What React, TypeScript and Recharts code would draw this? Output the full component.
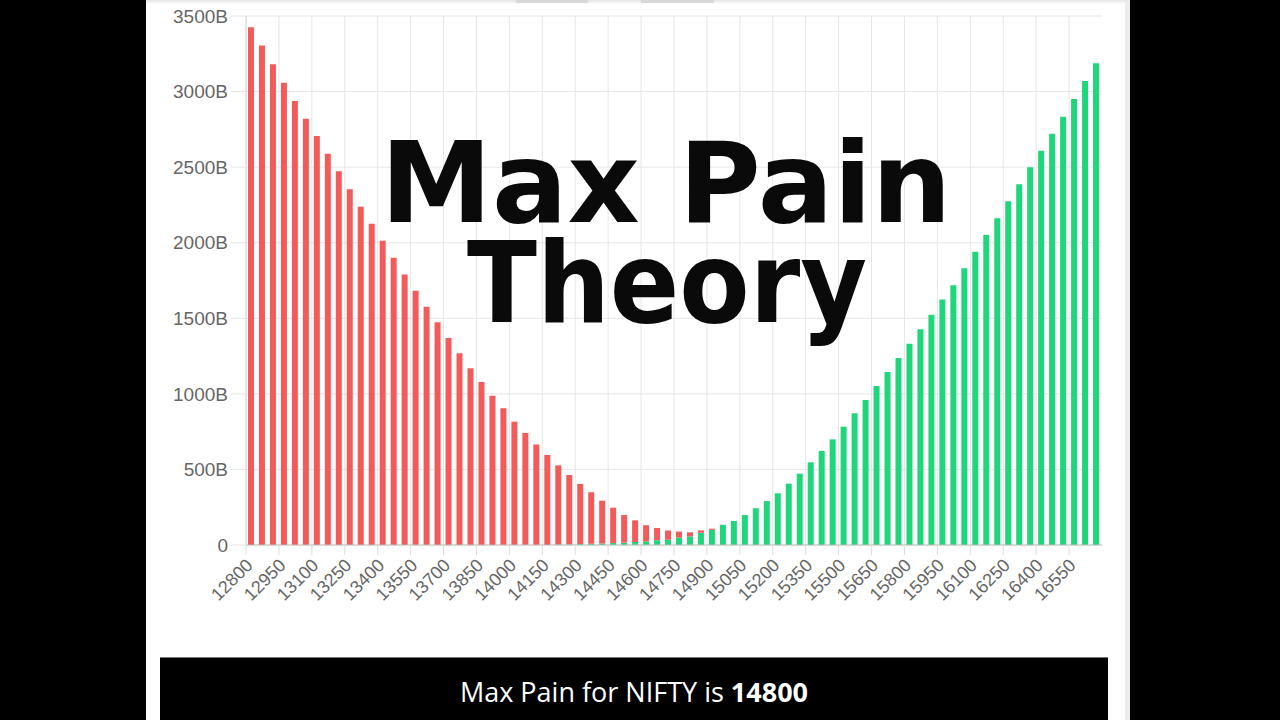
import React from "react";
import {
  BarChart,
  Bar,
  XAxis,
  YAxis,
  CartesianGrid,
  ReferenceLine,
} from "recharts";

// strike prices on the x axis
const strikes = [
  12800, 12850, 12900, 12950, 13000, 13050, 13100, 13150, 13200, 13250,
  13300, 13350, 13400, 13450, 13500, 13550, 13600, 13650, 13700, 13750,
  13800, 13850, 13900, 13950, 14000, 14050, 14100, 14150, 14200, 14250,
  14300, 14350, 14400, 14450, 14500, 14550, 14600, 14650, 14700, 14750,
  14800, 14850, 14900, 14950, 15000, 15050, 15100, 15150, 15200, 15250,
  15300, 15350, 15400, 15450, 15500, 15550, 15600, 15650, 15700, 15750,
  15800, 15850, 15900, 15950, 16000, 16050, 16100, 16150, 16200, 16250,
  16300, 16350, 16400, 16450, 16500, 16550, 16600, 16650,
];

// put writers' loss (red), in billions
const putPain = [
  3425, 3304, 3180, 3059, 2938, 2821, 2706, 2589, 2472, 2353,
  2238, 2126, 2013, 1901, 1789, 1682, 1577, 1473, 1370, 1268,
  1169, 1078, 988, 904, 816, 742, 665, 596, 525, 459,
  398, 341, 283, 234, 182, 143, 107, 82, 61, 40,
  27, 16, 8, 0, 0, 0, 0, 0, 0, 0,
  0, 0, 0, 0, 0, 0, 0, 0, 0, 0,
  0, 0, 0, 0, 0, 0, 0, 0, 0, 0,
  0, 0, 0, 0, 0, 0, 0, 0,
];

// call writers' loss (green), in billions
const callPain = [
  0, 0, 0, 0, 0, 0, 0, 0, 0, 0,
  0, 0, 0, 0, 0, 0, 0, 0, 0, 0,
  0, 0, 0, 0, 0, 0, 0, 0, 2, 4,
  6, 8, 10, 13, 16, 20, 24, 31, 35, 49,
  57, 81, 100, 134, 159, 198, 243, 291, 342, 406,
  472, 547, 622, 699, 783, 871, 959, 1052, 1145, 1237,
  1332, 1427, 1524, 1624, 1719, 1831, 1941, 2051, 2162, 2274,
  2387, 2499, 2609, 2721, 2834, 2951, 3070, 3187,
];

const yTicks = [0, 500, 1000, 1500, 2000, 2500, 3000, 3500];

const RED = "#f35b5b";
const GREEN = "#1fd67b";
const FONT = "'Liberation Sans', Arial, Helvetica, sans-serif";

const data = strikes.map((s, i) => ({
  strike: s,
  put: putPain[i],
  call: callPain[i],
}));

const XTick = (props: any) => {
  const { x, y, payload } = props;
  const off = payload?.offset ?? 0;
  return (
    <g>
      <line x1={x - off} x2={x - off} y1={y} y2={y + 10} stroke="#ddd" />
      <text
        transform={`translate(${x - 1},${y + 18}) rotate(-45)`}
        textAnchor="end"
        dominantBaseline="middle"
        fill="#666"
        fontSize={18}
        fontFamily={FONT}
      >
        {payload.value}
      </text>
    </g>
  );
};

export default function App() {
  return (
    <div
      style={{
        position: "absolute",
        left: 0,
        top: 0,
        width: 1280,
        height: 720,
        background: "#000",
        overflow: "hidden",
      }}
    >
      {/* white page panel */}
      <div
        style={{
          position: "absolute",
          left: 146,
          top: 0,
          width: 979,
          height: 720,
          background: "#fff",
        }}
      />
      <div
        style={{
          position: "absolute",
          left: 1125,
          top: 0,
          width: 5,
          height: 720,
          background: "#ececec",
        }}
      />
      <div
        style={{
          position: "absolute",
          left: 146,
          top: 0,
          width: 979,
          height: 4,
          background: "linear-gradient(#e4e4e4, #fff)",
        }}
      />
      <div style={{ position: "absolute", left: 516, top: 0, width: 72, height: 3, background: "#d8d8d8" }} />
      <div style={{ position: "absolute", left: 641, top: 0, width: 73, height: 3, background: "#d8d8d8" }} />

      <div style={{ position: "absolute", left: 146, top: 0 }}>
        <BarChart
          width={981}
          height={640}
          data={data}
          margin={{ top: 16, right: 25, bottom: 15, left: 0 }}
          barSize={6}
        >
          <CartesianGrid vertical={false} stroke="#e6e6e6" />
          {strikes
            .filter((_, i) => i % 3 === 0)
            .map((s) => (
              <ReferenceLine
                key={s}
                x={s}
                position="start"
                stroke="#e6e6e6"
              />
            ))}
          <XAxis
            dataKey="strike"
            interval={2}
            height={80}
            tickSize={0}
            tickMargin={0}
            tickLine={false}
            axisLine={{ stroke: "#bdbdbd" }}
            tick={<XTick />}
          />
          <YAxis
            width={100}
            domain={[0, 3500]}
            ticks={yTicks}
            tickSize={15}
            tickMargin={3}
            tickLine={{ stroke: "#e6e6e6" }}
            axisLine={{ stroke: "#d6d6d6" }}
            tickFormatter={(v: number) => (v === 0 ? "0" : `${v}B`)}
            tick={{ fill: "#666", fontSize: 19, fontFamily: FONT }}
          />
          <Bar dataKey="call" stackId="a" fill={GREEN} isAnimationActive={false} />
          <Bar dataKey="put" stackId="a" fill={RED} isAnimationActive={false} />
        </BarChart>
      </div>

      {/* title overlay */}
      <svg
        width={1280}
        height={720}
        style={{ position: "absolute", left: 0, top: 0, pointerEvents: "none" }}
      >
        <text
          textAnchor="middle"
          fontSize={112}
          fontWeight={900}
          fontFamily="'DejaVu Sans', sans-serif"
          fill="#0a0a0a"
        >
          <tspan x={666} y={222}>
            Max Pain
          </tspan>
          <tspan
            x={667}
            y={322}
            textLength={400}
            lengthAdjust="spacingAndGlyphs"
          >
            Theory
          </tspan>
        </text>
      </svg>

      {/* result banner */}
      <div
        style={{
          position: "absolute",
          left: 160,
          top: 657,
          width: 948,
          height: 63,
          background: "#000",
          borderTop: "1px solid #777",
          color: "#fff",
          fontFamily: "'Open Sans', sans-serif",
          fontSize: 27,
          display: "flex",
          alignItems: "center",
          justifyContent: "center",
          paddingTop: 4,
          boxSizing: "border-box",
        }}
      >
        <span>
          Max Pain for NIFTY is <b>14800</b>
        </span>
      </div>
    </div>
  );
}
